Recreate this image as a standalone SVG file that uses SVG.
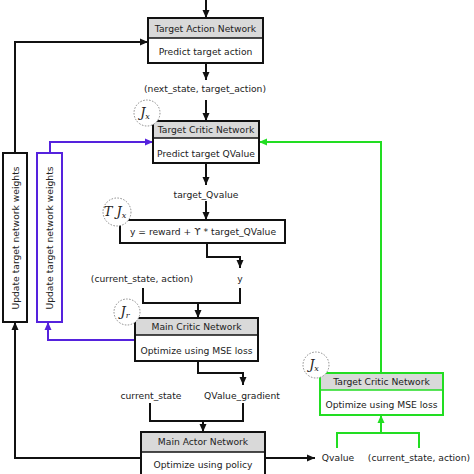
<svg xmlns="http://www.w3.org/2000/svg" width="474" height="474" viewBox="0 0 474 474">
<style>
text{font-family:"DejaVu Sans",Verdana,sans-serif;font-size:9.2px;fill:#222;text-anchor:middle}
.box{fill:#fff;stroke:#111;stroke-width:2}
.hd{fill:#d9d9d9;stroke:none}
.div{stroke:#111;stroke-width:1.5}
.c{fill:none;stroke:#111;stroke-width:2}
.p{fill:none;stroke:#5522dd;stroke-width:2}
.g{fill:none;stroke:#22dd22;stroke-width:2}
.j{fill:#fff;stroke:#888;stroke-width:1;stroke-dasharray:1.5 1.5}
.m{font-family:"DejaVu Serif","Liberation Serif",serif;font-style:italic;font-size:13px}
.ms{font-family:"DejaVu Serif","Liberation Serif",serif;font-style:italic;font-size:8px}
</style>
<defs>
<marker id="ak" markerUnits="userSpaceOnUse" markerWidth="8" markerHeight="8" refX="8" refY="4" orient="auto"><path d="M0,0.5L8,4L0,7.5z" fill="#111"/></marker>
<marker id="ap" markerUnits="userSpaceOnUse" markerWidth="8" markerHeight="8" refX="8" refY="4" orient="auto"><path d="M0,0.5L8,4L0,7.5z" fill="#5522dd"/></marker>
<marker id="ag" markerUnits="userSpaceOnUse" markerWidth="8" markerHeight="8" refX="8" refY="4" orient="auto"><path d="M0,0.5L8,4L0,7.5z" fill="#22dd22"/></marker>
</defs>
<g id="connectors">
<path class="c" d="M206,0V18" marker-end="url(#ak)"/>
<path class="c" d="M206,63V80" marker-end="url(#ak)"/>
<path class="c" d="M206,100V121" marker-end="url(#ak)"/>
<path class="c" d="M15,153V42H148" marker-end="url(#ak)"/>
<path class="p" d="M50,153V142H153" marker-end="url(#ap)"/>
<path class="g" d="M381,373V142H259" marker-end="url(#ag)"/>
<path class="c" d="M206,163V185" marker-end="url(#ak)"/>
<path class="c" d="M206,201V220" marker-end="url(#ak)"/>
<path class="c" d="M207,243V257H240V268" marker-end="url(#ak)"/>
<path class="c" d="M143,288V303H240V288"/>
<path class="c" d="M198,303V318" marker-end="url(#ak)"/>
<path class="p" d="M135,340H48V322" marker-end="url(#ap)"/>
<path class="c" d="M142,458H15V322" marker-end="url(#ak)"/>
<path class="c" d="M198,361V373H243V385" marker-end="url(#ak)"/>
<path class="c" d="M150,403V421H243V403"/>
<path class="c" d="M203,421V432" marker-end="url(#ak)"/>
<path class="c" d="M265,458H315" marker-end="url(#ak)"/>
<path class="g" d="M337,448V433H419V448"/>
<path class="g" d="M381,433V415" marker-end="url(#ag)"/>
</g>
<g id="labels">
<text x="205" y="92">(next_state, target_action)</text>
<text x="206" y="198">target_Qvalue</text>
<text x="142" y="282">(current_state, action)</text>
<text x="240" y="282">y</text>
<text x="151" y="399">current_state</text>
<text x="242" y="399">QValue_gradient</text>
<text x="338" y="461">Qvalue</text>
<text x="419" y="461">(current_state, action)</text>
</g>
<g id="target-action">
<rect class="box" x="148" y="18" width="115" height="45"/>
<rect class="hd" x="149" y="19" width="113" height="19"/>
<line class="div" x1="148" y1="38" x2="263" y2="38"/>
<text x="205.5" y="32">Target Action Network</text>
<text x="205.5" y="55">Predict target action</text>
</g>
<g id="target-critic">
<rect class="box" x="153" y="121" width="106" height="42"/>
<rect class="hd" x="154" y="122" width="104" height="16"/>
<line class="div" x1="153" y1="138" x2="259" y2="138"/>
<text x="206" y="133">Target Critic Network</text>
<text x="206" y="157">Predict target QValue</text>
<circle class="j" cx="147" cy="113" r="13"/>
<text class="m" x="145" y="117">J<tspan class="ms" dy="2">x</tspan></text>
</g>
<g id="y-box">
<rect class="box" x="120" y="220" width="165" height="23"/>
<text x="203" y="235">y = reward + ϒ * target_QValue</text>
<circle class="j" cx="117" cy="212" r="14"/>
<text class="m" x="115" y="216">T J<tspan class="ms" dy="2">x</tspan></text>
</g>
<g id="main-critic">
<rect class="box" x="135" y="318" width="123" height="43"/>
<rect class="hd" x="136" y="319" width="121" height="16"/>
<line class="div" x1="135" y1="335" x2="258" y2="335"/>
<text x="196.5" y="330">Main Critic Network</text>
<text x="196.5" y="354">Optimize using MSE loss</text>
<circle class="j" cx="127" cy="312" r="13"/>
<text class="m" x="125" y="316">J<tspan class="ms" dy="2">r</tspan></text>
</g>
<g id="main-actor">
<rect class="box" x="141" y="432" width="124" height="50"/>
<rect class="hd" x="142" y="433" width="122" height="19"/>
<line class="div" x1="141" y1="452" x2="265" y2="452"/>
<text x="203" y="445">Main Actor Network</text>
<text x="203" y="468">Optimize using policy</text>
</g>
<g id="update-black">
<rect class="box" x="3" y="153" width="24" height="169"/>
<text transform="translate(18.5,238) rotate(-90)">Update target network weights</text>
</g>
<g id="update-purple">
<rect x="37" y="153" width="25" height="169" fill="#fff" stroke="#5522dd" stroke-width="2"/>
<text transform="translate(52.5,238) rotate(-90)">Update target network weights</text>
</g>
<g id="target-critic-2">
<rect x="320" y="373" width="123" height="42" fill="#fff" stroke="#22dd22" stroke-width="2"/>
<rect class="hd" x="321" y="374" width="121" height="16"/>
<line x1="320" y1="390" x2="443" y2="390" stroke="#22dd22" stroke-width="1.5"/>
<text x="381.5" y="385">Target Critic Network</text>
<text x="381.5" y="408">Optimize using MSE loss</text>
<circle class="j" cx="316" cy="365" r="13"/>
<text class="m" x="314" y="369">J<tspan class="ms" dy="2">x</tspan></text>
</g>
</svg>
